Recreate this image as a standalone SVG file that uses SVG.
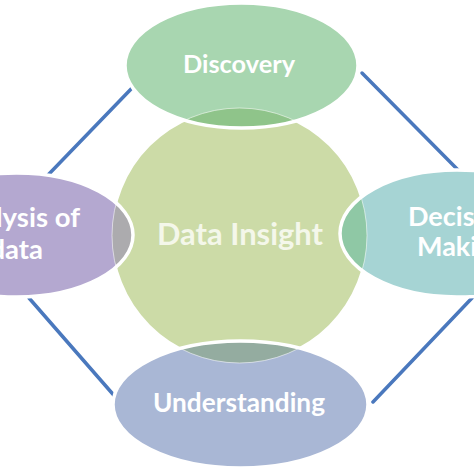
<svg xmlns="http://www.w3.org/2000/svg" width="474" height="474" viewBox="0 0 474 474">
<style>
.lbl{font-family:Lato,"Open Sans","Liberation Sans",sans-serif;font-weight:bold;fill:#ffffff}
.edge{stroke:#4a78bd;stroke-width:3.5;stroke-linecap:round;fill:none}
.rim{fill:none;stroke:#ffffff;stroke-width:3.5}
.inner{stroke:#ffffff;stroke-opacity:0.55;stroke-width:1}
</style>
<defs>
<clipPath id="cTop"><ellipse cx="241.5" cy="65.5" rx="116.5" ry="62.5"/></clipPath>
<clipPath id="cLeft"><ellipse cx="16.5" cy="235" rx="116.5" ry="62"/></clipPath>
<clipPath id="cRight"><ellipse cx="457" cy="233.5" rx="117" ry="63.5"/></clipPath>
<clipPath id="cBottom"><ellipse cx="240.5" cy="404.5" rx="127.5" ry="63.5"/></clipPath>
</defs>
<rect width="474" height="474" fill="#ffffff"/>
<g id="connectors">
<line class="edge" x1="133" y1="87" x2="48" y2="175"/>
<line class="edge" x1="362" y1="73" x2="463" y2="175"/>
<line class="edge" x1="29" y1="298" x2="118" y2="400"/>
<line class="edge" x1="373" y1="402" x2="472" y2="298"/>
</g>
<g id="data-insight">
<circle cx="239.5" cy="235.5" r="127.5" fill="#ccdba7" stroke="#ffffff" stroke-width="2"/>
<text class="lbl" x="240" y="245" font-size="30.5" text-anchor="middle" textLength="166" lengthAdjust="spacingAndGlyphs" style="fill:#f4f7ea">Data Insight</text>
</g>
<g id="discovery">
<ellipse cx="241.5" cy="65.5" rx="116.5" ry="62.5" fill="#a8d6b0"/>
<circle class="inner" cx="239.5" cy="235.5" r="127.5" fill="#8fc48a" clip-path="url(#cTop)"/>
<ellipse class="rim" cx="241.5" cy="65.5" rx="116.5" ry="62.5"/>
<text class="lbl" x="239" y="73" font-size="24" text-anchor="middle" textLength="112" lengthAdjust="spacingAndGlyphs">Discovery</text>
</g>
<g id="analysis-of-data">
<ellipse cx="16.5" cy="235" rx="116.5" ry="62" fill="#b4a8d0"/>
<circle class="inner" cx="239.5" cy="235.5" r="127.5" fill="#acabae" clip-path="url(#cLeft)"/>
<ellipse class="rim" cx="16.5" cy="235" rx="116.5" ry="62"/>
<text class="lbl" x="80" y="227" font-size="27.5" text-anchor="end">Analysis of</text>
<text class="lbl" x="43" y="259" font-size="27.5" text-anchor="end">data</text>
</g>
<g id="decision-making">
<ellipse cx="457" cy="233.5" rx="117" ry="63.5" fill="#a6d4d4"/>
<circle class="inner" cx="239.5" cy="235.5" r="127.5" fill="#8fc8a5" clip-path="url(#cRight)"/>
<ellipse class="rim" cx="457" cy="233.5" rx="117" ry="63.5"/>
<text class="lbl" x="408" y="226" font-size="27">Decision</text>
<text class="lbl" x="417" y="256" font-size="27">Making</text>
</g>
<g id="understanding">
<ellipse cx="240.5" cy="404.5" rx="127.5" ry="63.5" fill="#a9b7d5"/>
<circle class="inner" cx="239.5" cy="235.5" r="127.5" fill="#94aca0" clip-path="url(#cBottom)"/>
<ellipse class="rim" cx="240.5" cy="404.5" rx="127.5" ry="63.5"/>
<text class="lbl" x="239" y="412" font-size="27.5" text-anchor="middle" textLength="172" lengthAdjust="spacingAndGlyphs">Understanding</text>
</g>
</svg>
